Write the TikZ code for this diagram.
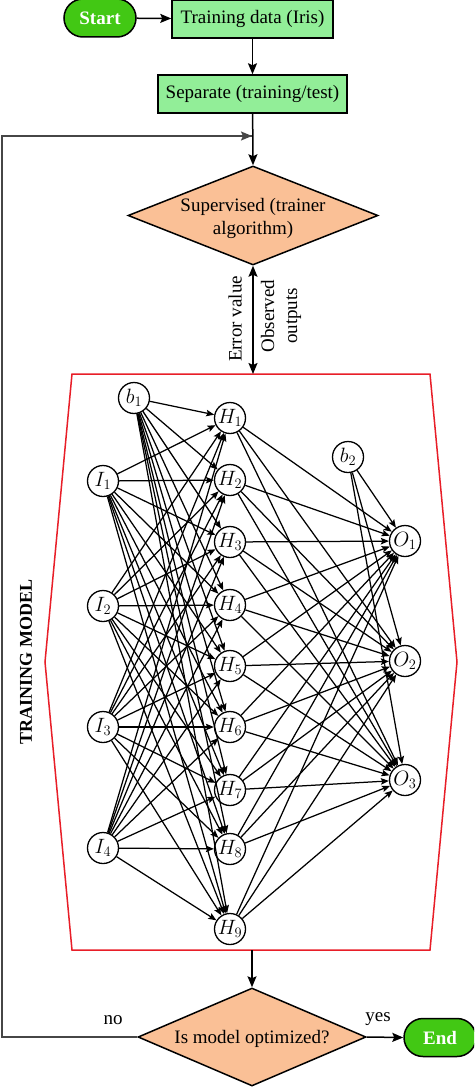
\documentclass[tikz,border=0pt]{standalone}
\usepackage{fontspec}
\setmainfont{Liberation Serif}
\usetikzlibrary{shapes.geometric,shapes.misc,arrows.meta}
\definecolor{pillgreen}{RGB}{66,200,20}
\definecolor{boxgreen}{RGB}{146,238,152}
\definecolor{peach}{RGB}{250,192,150}
\definecolor{modelred}{RGB}{232,30,40}
\definecolor{loopgray}{RGB}{70,70,70}
\begin{document}
\begin{tikzpicture}[x=1pt,y=-1pt,
  font=\fontsize{19}{23}\selectfont,
  pillnode/.style={rounded rectangle, draw, line width=1.5pt, fill=pillgreen, text=white,
    font=\fontsize{19}{23}\selectfont\bfseries, minimum width=72pt, minimum height=38pt, inner sep=0pt},
  boxnode/.style={rectangle, draw, line width=1.5pt, fill=boxgreen, inner sep=0pt, minimum height=38pt},
  dia/.style={diamond, draw, line width=1.5pt, fill=peach, inner sep=0pt},
  neuron/.style={circle, draw, line width=1.3pt, minimum size=31pt, inner sep=0pt, fill=white,
    font=\fontsize{22}{24}\selectfont},
  flow/.style={line width=1.5pt, -{Stealth[length=11pt,width=9pt,inset=2pt]}},
  flowboth/.style={line width=1.5pt, {Stealth[length=11pt,width=9pt,inset=2pt]}-{Stealth[length=11pt,width=9pt,inset=2pt]}},
  syn/.style={line width=1.25pt, -{Stealth[length=8pt,width=6.5pt,inset=1.5pt]}},
  lbl/.style={inner sep=0pt}
]
\clip (0,0) rectangle (474,1089);
\fill[white] (0,0) rectangle (474,1089);

% flowchart nodes
\node[pillnode] (start) at (100,18) {Start};
\node[boxnode, minimum width=161pt] (train) at (252.5,19) {Training data (Iris)};
\node[boxnode, minimum width=189pt] (sep) at (252.5,94) {Separate (training/test)};
\node[dia, minimum width=250pt, minimum height=99pt] (sup) at (253,215.5) {};
\node[lbl, align=center] (suptext) at (253,218) {Supervised (trainer\\algorithm)};
\node[dia, minimum width=228pt, minimum height=98pt] (opt) at (252,1037) {};
\node[lbl] (opttext) at (252,1039) {Is model optimized?};
\node[pillnode] (end) at (440,1037.5) {End};

% red training model frame
\draw[modelred, line width=1.5pt] (72,374) -- (430,374) -- (457,662) -- (430,950) -- (72,950) -- (45,662) -- cycle;
\coordinate (mtop) at (253,374);
\coordinate (mbot) at (252,950);
\coordinate (loopin) at (252,136);
\coordinate (loopc1) at (2,1037);
\coordinate (loopc2) at (2,136);
\node[lbl, rotate=90, font=\fontsize{18}{22}\selectfont\bfseries] (tm) at (26,662) {TRAINING MODEL};

% flow connectors
\draw[flow] (start) -- (train);
\draw[flow] (train) -- (sep);
\draw[flow] (sep) -- (sup.north);
\draw[flowboth] (sup.south) -- (mtop);
\draw[flow] (mbot) -- (opt.north);
\draw[flow] (opt.east) -- (end.west);
\draw[line width=1.6pt, loopgray] (opt.west) -- (loopc1) -- (loopc2) -- (loopin);
\draw[flow, loopgray] (loopc2) -- (loopin);
\node[lbl, rotate=90] (err) at (235,319) {Error value};
\node[lbl, rotate=90, align=center] (obs) at (281,316) {Observed\\outputs};
\node[lbl] (no) at (113,1020) {no};
\node[lbl] (yes) at (378,1019) {yes};

% network nodes
\node[neuron] (b1) at (134,398) {$b_1$};
\node[neuron] (I1) at (103,481) {$I_1$};
\node[neuron] (I2) at (103,606) {$I_2$};
\node[neuron] (I3) at (103,727) {$I_3$};
\node[neuron] (I4) at (103,848) {$I_4$};
\node[neuron] (H1) at (230,418) {$H_1$};
\node[neuron] (H2) at (230,480) {$H_2$};
\node[neuron] (H3) at (230,542) {$H_3$};
\node[neuron] (H4) at (230,605) {$H_4$};
\node[neuron] (H5) at (230,666) {$H_5$};
\node[neuron] (H6) at (230,727) {$H_6$};
\node[neuron] (H7) at (230,790) {$H_7$};
\node[neuron] (H8) at (230,849) {$H_8$};
\node[neuron] (H9) at (230,929) {$H_9$};
\node[neuron] (b2) at (348,457) {$b_2$};
\node[neuron] (O1) at (405,541) {$O_1$};
\node[neuron] (O2) at (405,661) {$O_2$};
\node[neuron] (O3) at (405,780) {$O_3$};

% synapses
\foreach \s in {b1,I1,I2,I3,I4}{
  \foreach \h in {1,...,9}{
    \draw[syn] (\s) -- (H\h);
  }
}
\foreach \h in {1,...,9}{
  \foreach \o in {1,2,3}{
    \draw[syn] (H\h) -- (O\o);
  }
}
\foreach \o in {1,2,3}{
  \draw[syn] (b2) -- (O\o);
}
\end{tikzpicture}
\end{document}
